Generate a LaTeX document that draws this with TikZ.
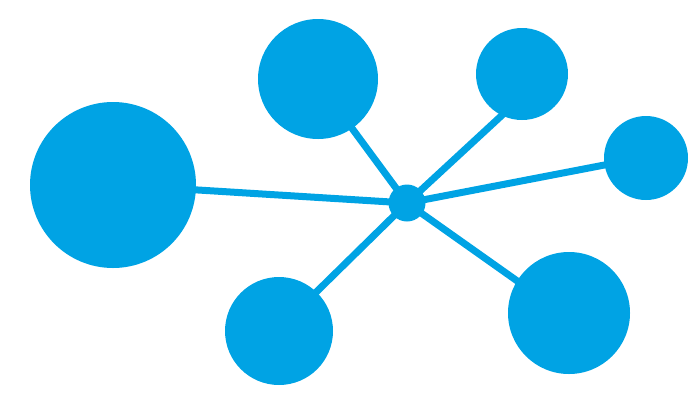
\documentclass[tikz,border=0pt]{standalone}
\usepackage{tikz}
\definecolor{netblue}{RGB}{0,163,228}
\tikzset{
  blob/.style={circle, fill=netblue, inner sep=0pt},
  link/.style={draw=netblue, line width=7pt}
}
\begin{document}
\begin{tikzpicture}[x=1pt,y=-1pt]
\useasboundingbox (0,0) rectangle (698,400);
\node[blob, minimum size=37pt] (hub) at (407,203) {};
% link ends, a bit off the circle centres
\coordinate (leftend) at (150,187);
\coordinate (topend) at (340,112);
\coordinate (toprightend) at (512,106);
\coordinate (rightend) at (620,162);
\coordinate (lowrightend) at (530,290);
\coordinate (lowleftend) at (300,308);
\foreach \n in {left,top,topright,right,lowright,lowleft}
  \draw [link] (hub.center) -- (\n end);
\node[blob, minimum size=166pt] (left) at (113,185) {};
\node[blob, minimum size=120pt] (top) at (318,79) {};
\node[blob, minimum size=92pt] (topright) at (522,74) {};
\node[blob, minimum size=84pt] (right) at (646,158) {};
\node[blob, minimum size=122pt] (lowright) at (569,313) {};
\node[blob, minimum size=108pt] (lowleft) at (279,331) {};
\end{tikzpicture}
\end{document}
